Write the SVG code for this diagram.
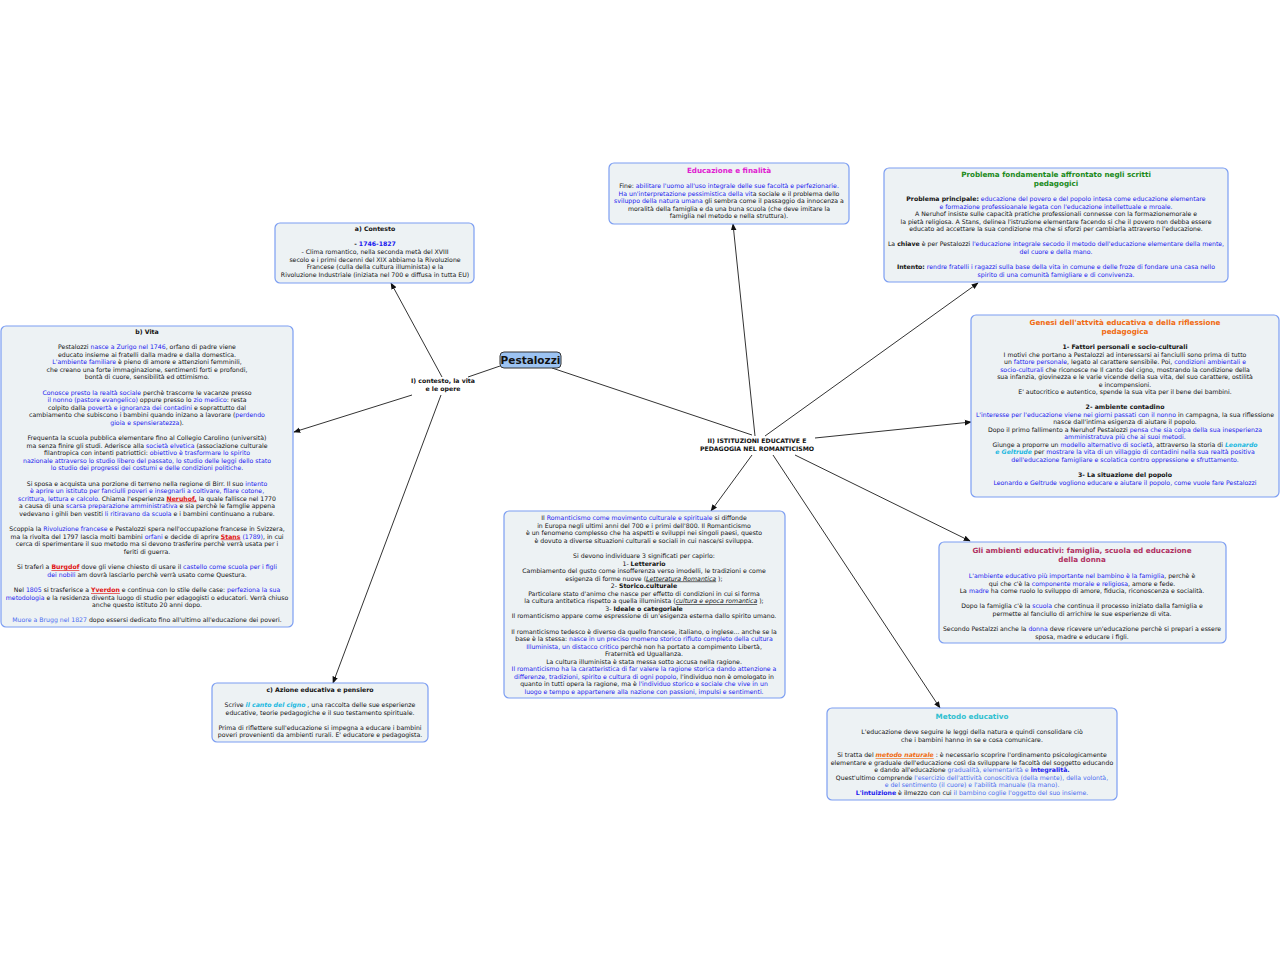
<svg xmlns="http://www.w3.org/2000/svg" width="1280" height="963" viewBox="0 0 1280 963">
<style>
.box{fill:#edf2f4;stroke:#7c9ef2;stroke-width:1.2}
.t{font-family:"DejaVu Sans",Verdana,sans-serif;font-size:6.2px;text-anchor:middle;fill:#111}
.h{font-weight:bold;font-size:7.2px}
.b{fill:#2020ee}
.l{fill:#4a6cf0}
.c{fill:#20b8e0;font-weight:bold;font-style:italic}
.k{font-weight:bold}
.r{fill:#e01010;font-weight:bold;text-decoration:underline}
.o{fill:#f06a10;font-weight:bold;font-style:italic;text-decoration:underline}
.u{font-style:italic;text-decoration:underline}
.ln{stroke:#333;stroke-width:1;fill:none;marker-end:url(#a)}
.lp{stroke:#333;stroke-width:1;fill:none}
</style>
<defs><marker id="a" viewBox="0 0 10 10" refX="9" refY="5" markerWidth="7" markerHeight="7" orient="auto"><path d="M0,1 L10,5 L0,9 z" fill="#111"/></marker></defs>
<rect width="1280" height="963" fill="#fff"/>
<g id="connectors">
<line class="lp" x1="500" y1="366" x2="468" y2="377"/>
<line class="lp" x1="552" y1="368" x2="752" y2="435"/>
<line class="ln" x1="442" y1="377" x2="391" y2="283"/>
<line class="ln" x1="412" y1="395" x2="294" y2="432"/>
<line class="ln" x1="441" y1="395" x2="333" y2="683"/>
<line class="ln" x1="755" y1="436" x2="733" y2="224"/>
<line class="ln" x1="765" y1="436" x2="978" y2="283"/>
<line class="ln" x1="815" y1="438" x2="971" y2="422"/>
<line class="ln" x1="795" y1="455" x2="970" y2="541"/>
<line class="ln" x1="773" y1="455" x2="940" y2="708"/>
<line class="ln" x1="752" y1="455" x2="711" y2="511"/>
</g>
<g id="pestalozzi">
<rect x="500" y="352" width="61" height="16" rx="4" fill="#9cc3f2" stroke="#333" stroke-width="1"/>
<text class="t" x="530.5" y="363.5" style="font-size:10.5px;font-weight:bold">Pestalozzi</text>
</g>
<g id="n1"><text class="t k" x="443" y="383">I) contesto, la vita</text><text class="t k" x="443" y="391">e le opere</text></g>
<g id="n2"><text class="t k" x="757" y="443">II) ISTITUZIONI EDUCATIVE E</text><text class="t k" x="757" y="451">PEDAGOGIA NEL ROMANTICISMO</text></g>
<g id="contesto">
<rect class="box" x="275" y="223" width="199" height="60" rx="5"/>
<text class="t k" x="375" y="231">a) Contesto</text>
<text class="t k" x="375" y="246">- <tspan class="b">1746-1827</tspan></text>
<text class="t" x="375" y="254">- Clima romantico, nella seconda metà del XVIII</text>
<text class="t" x="375" y="261.5">secolo e i primi decenni del XIX abbiamo la Rivoluzione</text>
<text class="t" x="375" y="269">Francese (culla della cultura illuminista) e la</text>
<text class="t" x="375" y="276.5">Rivoluzione Industriale (iniziata nel 700 e diffusa in tutta EU)</text>
</g>
<g id="vita">
<rect class="box" x="1" y="326" width="292" height="301" rx="5"/>
<text class="t k" x="147" y="334">b) Vita</text>
<text class="t" x="147" y="349">Pestalozzi <tspan class="b">nasce a Zurigo nel 1746</tspan>, orfano di padre viene</text>
<text class="t" x="147" y="356.5">educato insieme ai fratelli dalla madre e dalla domestica.</text>
<text class="t" x="147" y="364"><tspan class="b">L'ambiente familiare</tspan> è pieno di amore e attenzioni femminili,</text>
<text class="t" x="147" y="371.5">che creano una forte immaginazione, sentimenti forti e profondi,</text>
<text class="t" x="147" y="379">bontà di cuore, sensibilità ed ottimismo.</text>
<text class="t" x="147" y="394.5"><tspan class="b">Conosce presto la realtà sociale</tspan> perchè trascorre le vacanze presso</text>
<text class="t" x="147" y="402"><tspan class="b">il nonno (pastore evangelico)</tspan> oppure presso lo <tspan class="b">zio medico</tspan>: resta</text>
<text class="t" x="147" y="409.5">colpito dalla <tspan class="b">povertà e ignoranza dei contadini</tspan> e soprattutto dal</text>
<text class="t" x="147" y="417">cambiamento che subiscono i bambini quando inizano a lavorare (<tspan class="b">perdendo</tspan></text>
<text class="t" x="147" y="424.5"><tspan class="b">gioia e spensieratezza</tspan>).</text>
<text class="t" x="147" y="440">Frequenta la scuola pubblica elementare fino al Collegio Carolino (università)</text>
<text class="t" x="147" y="447.5">ma senza finire gli studi. Aderisce alla <tspan class="b">società elvetica</tspan> (associazione culturale</text>
<text class="t" x="147" y="455">filantropica con intenti patriottici: <tspan class="b">obiettivo è trasformare lo spirito</tspan></text>
<text class="t b" x="147" y="462.5">nazionale attraverso lo studio libero del passato, lo studio delle leggi dello stato</text>
<text class="t b" x="147" y="470">lo studio dei progressi dei costumi e delle condizioni politiche.</text>
<text class="t" x="147" y="485.5">Si sposa e acquista una porzione di terreno nella regione di Birr. Il suo <tspan class="b">intento</tspan></text>
<text class="t b" x="147" y="493">è aprire un istituto per fanciulli poveri e insegnarli a coltivare, filare cotone,</text>
<text class="t" x="147" y="500.5"><tspan class="b">scrittura, lettura e calcolo.</tspan> Chiama l'esperienza <tspan class="r">Neruhof,</tspan> la quale fallisce nel 1770</text>
<text class="t" x="147" y="508">a causa di una <tspan class="b">scarsa preparazione amministrativa</tspan> e sia perchè le famglie appena</text>
<text class="t" x="147" y="515.5">vedevano i gihli ben vestiti <tspan class="b">li ritiravano da scuola</tspan> e i bambini continuano a rubare.</text>
<text class="t" x="147" y="531">Scoppia la <tspan class="b">Rivoluzione francese</tspan> e Pestalozzi spera nell'occupazione francese in Svizzera,</text>
<text class="t" x="147" y="538.5">ma la rivolta del 1797 lascia molti bambini <tspan class="b">orfani</tspan> e decide di aprire <tspan class="r">Stans</tspan> <tspan class="b">(1789)</tspan>, in cui</text>
<text class="t" x="147" y="546">cerca di sperimentare il suo metodo ma si devono trasferire perchè verrà usata per i</text>
<text class="t" x="147" y="553.5">feriti di guerra.</text>
<text class="t" x="147" y="569">Si traferì a <tspan class="r">Burgdof</tspan> dove gli viene chiesto di usare il <tspan class="b">castello come scuola per i figli</tspan></text>
<text class="t" x="147" y="576.5"><tspan class="b">dei nobili</tspan> am dovrà lasciarlo perchè verrà usato come Questura.</text>
<text class="t" x="147" y="592">Nel <tspan class="b">1805</tspan> si trasferisce a <tspan class="r">Yverdon</tspan> e continua con lo stile delle case: <tspan class="b">perfeziona la sua</tspan></text>
<text class="t" x="147" y="599.5"><tspan class="b">metodologia</tspan> e la residenza diventa luogo di studio per edagogisti o educatori. Verrà chiuso</text>
<text class="t" x="147" y="607">anche questo istituto 20 anni dopo.</text>
<text class="t" x="147" y="621.5"><tspan class="l">Muore a Brugg nel 1827</tspan> dopo essersi dedicato fino all'ultimo all'educazione dei poveri.</text>
</g>
<g id="azione">
<rect class="box" x="212" y="683" width="216" height="59" rx="5"/>
<text class="t k" x="320" y="691.5">c) Azione educativa e pensiero</text>
<text class="t" x="320" y="707">Scrive <tspan class="c">il canto del cigno</tspan> , una raccolta delle sue esperienze</text>
<text class="t" x="320" y="714.5">educative, teorie pedagogiche e il suo testamento spirituale.</text>
<text class="t" x="320" y="729.5">Prima di riflettere sull'educazione si impegna a educare i bambini</text>
<text class="t" x="320" y="737">poveri provenienti da ambienti rurali. E' educatore e pedagogista.</text>
</g>
<g id="educazione">
<rect class="box" x="609" y="163" width="240" height="61" rx="5"/>
<text class="t h" x="729" y="173" fill="#e020d0" style="fill:#e020d0">Educazione e finalità</text>
<text class="t" x="729" y="188">Fine: <tspan class="b">abilitare l'uomo all'uso integrale delle sue facoltà e perfezionarie.</tspan></text>
<text class="t" x="729" y="195.5"><tspan class="b">Ha un'interpretazione pessimistica della vit</tspan>a sociale e il problema dello</text>
<text class="t" x="729" y="203"><tspan class="b">sviluppo della natura umana</tspan> gli sembra come il passaggio da innocenza a</text>
<text class="t" x="729" y="210.5">moralità della famiglia e da una buna scuola (che deve imitare la</text>
<text class="t" x="729" y="218">famiglia nel metodo e nella struttura).</text>
</g>
<g id="problema">
<rect class="box" x="884" y="168" width="344" height="114" rx="5"/>
<text class="t h" x="1056" y="177" style="fill:#1a8a1a">Problema fondamentale affrontato negli scritti</text>
<text class="t h" x="1056" y="185.5" style="fill:#1a8a1a">pedagogici</text>
<text class="t" x="1056" y="201"><tspan class="k">Problema principale:</tspan> <tspan class="b">educazione del povero e del popolo intesa come educazione elementare</tspan></text>
<text class="t b" x="1056" y="208.5">e formazione professioanale legata con l'educazione intellettuale e mroale.</text>
<text class="t" x="1056" y="216">A Neruhof insiste sulle capacità pratiche professionali connesse con la formazionemorale e</text>
<text class="t" x="1056" y="223.5">la pietà religiosa. A Stans, delinea l'istruzione elementare facendo si che il povero non debba essere</text>
<text class="t" x="1056" y="231">educato ad accettare la sua condizione ma che si sforzi per cambiarla attraverso l'educazione.</text>
<text class="t" x="1056" y="246">La <tspan class="k">chiave</tspan> è per Pestalozzi <tspan class="b">l'educazione integrale secodo il metodo dell'educazione elementare della mente,</tspan></text>
<text class="t b" x="1056" y="253.5">del cuore e della mano.</text>
<text class="t" x="1056" y="269"><tspan class="k">Intento:</tspan> <tspan class="b">rendre fratelli i ragazzi sulla base della vita in comune e delle froze di fondare una casa nello</tspan></text>
<text class="t b" x="1056" y="276.5">spirito di una comunità famigliare e di convivenza.</text>
</g>
<g id="genesi">
<rect class="box" x="971" y="315" width="308" height="182" rx="5"/>
<text class="t h" x="1125" y="325" style="fill:#f06a10">Genesi dell'attvità educativa e della riflessione</text>
<text class="t h" x="1125" y="333.5" style="fill:#f06a10">pedagogica</text>
<text class="t k" x="1125" y="349">1- Fattori personali e socio-culturali</text>
<text class="t" x="1125" y="356.5">I motivi che portano a Pestalozzi ad interessarsi ai fanciulli sono prima di tutto</text>
<text class="t" x="1125" y="364">un <tspan class="b">fattore personale</tspan>, legato al carattere sensibile. Poi, <tspan class="b">condizioni ambientali e</tspan></text>
<text class="t" x="1125" y="371.5"><tspan class="b">socio-culturali</tspan> che riconosce ne Il canto del cigno, mostrando la condizione della</text>
<text class="t" x="1125" y="379">sua infanzia, giovinezza e le varie vicende della sua vita, del suo carattere, ostilità</text>
<text class="t" x="1125" y="386.5">e incompensioni.</text>
<text class="t" x="1125" y="394">E' autocritico e autentico, spende la sua vita per il bene dei bambini.</text>
<text class="t k" x="1125" y="409">2- ambiente contadino</text>
<text class="t" x="1125" y="416.5"><tspan class="b">L'interesse per l'educazione viene nei giorni passati con il nonno</tspan> in campagna, la sua riflessione</text>
<text class="t" x="1125" y="424">nasce dall'intima esigenza di aiutare il popolo.</text>
<text class="t" x="1125" y="431.5">Dopo il primo fallimento a Neruhof Pestalozzi <tspan class="b">pensa che sia colpa della sua inesperienza</tspan></text>
<text class="t b" x="1125" y="439">amministratuva più che ai suoi metodi.</text>
<text class="t" x="1125" y="446.5">Giunge a proporre un <tspan class="b">modello alternativo di società</tspan>, attraverso la storia di <tspan class="c">Leonardo</tspan></text>
<text class="t" x="1125" y="454"><tspan class="c">e Geltrude</tspan>  per <tspan class="b">mostrare la vita di un villaggio di contadini nella sua realtà positiva</tspan></text>
<text class="t b" x="1125" y="461.5">dell'educazione famigliare e scolatica contro oppressione e sfruttamento.</text>
<text class="t k" x="1125" y="477">3- La situazione del popolo</text>
<text class="t b" x="1125" y="484.5">Leonardo e Geltrude vogliono educare e aiutare il popolo, come vuole fare Pestalozzi</text>
</g>
<g id="ambienti">
<rect class="box" x="939" y="542" width="287" height="101" rx="5"/>
<text class="t h" x="1082" y="553" style="fill:#b03060">Gli ambienti educativi: famiglia, scuola ed educazione</text>
<text class="t h" x="1082" y="561.5" style="fill:#b03060">della donna</text>
<text class="t" x="1082" y="578"><tspan class="b">L'ambiente educativo più importante nel bambino è la famiglia</tspan>, perchè è</text>
<text class="t" x="1082" y="585.5">qui che c'è la <tspan class="b">componente morale e religiosa</tspan>, amore e fede.</text>
<text class="t" x="1082" y="593">La <tspan class="b">madre</tspan> ha come ruolo lo sviluppo di amore, fiducia, riconoscenza e socialità.</text>
<text class="t" x="1082" y="608">Dopo la famiglia c'è la <tspan class="b">scuola</tspan> che continua il processo iniziato dalla famiglia e</text>
<text class="t" x="1082" y="615.5">permette al fanciullo di arrichire le sue esperienze di vita.</text>
<text class="t" x="1082" y="631">Secondo Pestalzzi anche la <tspan class="b">donna</tspan> deve ricevere un'educazione perchè si prepari a essere</text>
<text class="t" x="1082" y="638.5">sposa, madre e educare i figli.</text>
</g>
<g id="metodo">
<rect class="box" x="827" y="708" width="290" height="92" rx="5"/>
<text class="t h" x="972" y="719" style="fill:#30c0d0">Metodo educativo</text>
<text class="t" x="972" y="734">L'educazione deve seguire le leggi della natura e quindi consolidare ciò</text>
<text class="t" x="972" y="741.5">che i bambini hanno in se e cosa comunicare.</text>
<text class="t" x="972" y="757">Si tratta del <tspan class="o">metodo naturale</tspan> : è necessario scoprire l'ordinamento psicologicamente</text>
<text class="t" x="972" y="764.5">elementare e graduale dell'educazione così da sviluppare le facoltà del soggetto educando</text>
<text class="t" x="972" y="772">e dando all'educazione <tspan class="l">gradualità, elementarità e </tspan><tspan class="b k">integralità.</tspan></text>
<text class="t" x="972" y="779.5">Quest'ultimo comprende <tspan class="l">l'esercizio dell'attività conoscitiva (della mente), della volontà,</tspan></text>
<text class="t l" x="972" y="787">e del sentimento (il cuore) e l'abilità manuale (la mano).</text>
<text class="t" x="972" y="794.5"><tspan class="b k">L'intuizione</tspan> è ilmezzo con cui <tspan class="l">il bambino coglie l'oggetto del suo insieme.</tspan></text>
</g>
<g id="romanticismo">
<rect class="box" x="504" y="511" width="281" height="187" rx="5"/>
<text class="t" x="644" y="520">Il <tspan class="b">Romanticismo come movimento culturale e spirituale</tspan> si diffonde</text>
<text class="t" x="644" y="527.5">in Europa negli ultimi anni del 700 e i primi dell'800. Il Romanticismo</text>
<text class="t" x="644" y="535">è un fenomeno complesso che ha aspetti e sviluppi nei singoli paesi, questo</text>
<text class="t" x="644" y="542.5">è dovuto a diverse situazioni culturali e sociali in cui nasce/si sviluppa.</text>
<text class="t" x="644" y="558">Si devono individuare 3 significati per capirlo:</text>
<text class="t" x="644" y="565.5">1- <tspan class="k">Letterario</tspan></text>
<text class="t" x="644" y="573">Cambiamento del gusto come insofferenza verso imodelli, le tradizioni e come</text>
<text class="t" x="644" y="580.5">esigenza di forme nuove (<tspan class="u">Letteratura Romantica</tspan> );</text>
<text class="t" x="644" y="588">2- <tspan class="k">Storico.culturale</tspan></text>
<text class="t" x="644" y="595.5">Particolare stato d'animo che nasce per effetto di condizioni  in cui si forma</text>
<text class="t" x="644" y="603">la cultura antitetica rispetto a quella illuminista (<tspan class="u">cultura e epoca romantica</tspan> );</text>
<text class="t" x="644" y="610.5">3- <tspan class="k">Ideale o categoriale</tspan></text>
<text class="t" x="644" y="618">Il romanticismo appare come espressione di un'esigenza esterna dallo spirito umano.</text>
<text class="t" x="644" y="633.5">Il romanticismo tedesco è diverso da quello francese, italiano, o inglese... anche se la</text>
<text class="t" x="644" y="641">base è la stessa: <tspan class="b">nasce in un preciso momeno storico rifiuto completo della cultura</tspan></text>
<text class="t" x="644" y="648.5"><tspan class="b">Illuminista, un distacco critico</tspan> perchè non ha portato a compimento Libertà,</text>
<text class="t" x="644" y="656">Fraternità ed Uguallanza.</text>
<text class="t" x="644" y="663.5">La cultura illuminista è stata messa sotto accusa nella ragione.</text>
<text class="t b" x="644" y="671">Il romanticismo ha la caratteristica di far valere la ragione storica dando  attenzione a</text>
<text class="t" x="644" y="678.5"><tspan class="b">differenze, tradizioni, spirito e cultura di ogni popolo</tspan>, l'individuo non è omologato in</text>
<text class="t" x="644" y="686">quanto in tutti opera la ragione, ma è <tspan class="b">l'individuo storico e sociale che vive in un</tspan></text>
<text class="t b" x="644" y="693.5">luogo e tempo e appartenere alla nazione con passioni, impulsi e sentimenti.</text>
</g>
</svg>
